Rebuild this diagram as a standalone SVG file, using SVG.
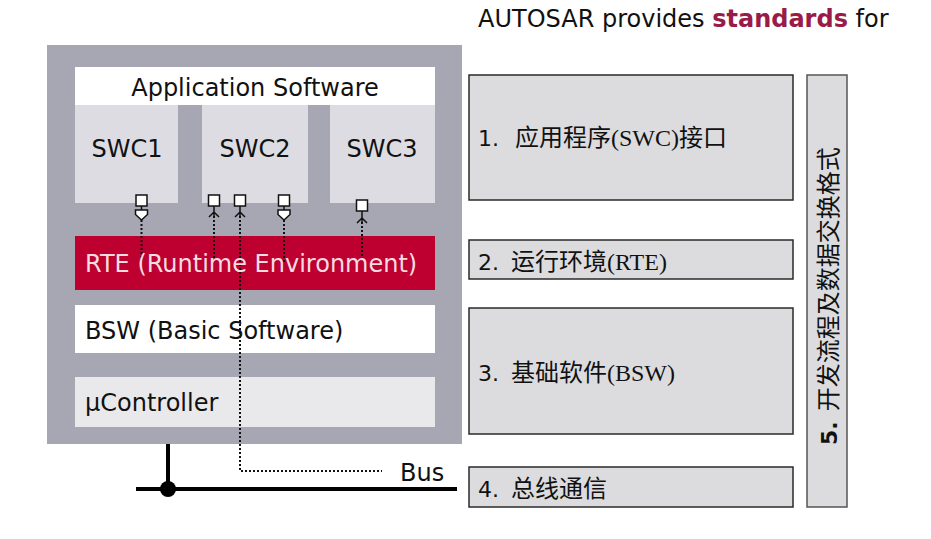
<svg xmlns="http://www.w3.org/2000/svg" width="931" height="539" viewBox="0 0 931 539">
<defs>
<style>
.sans{font-family:"DejaVu Sans","Noto Sans CJK SC",sans-serif;}
.cj{font-family:"Liberation Serif","Noto Sans CJK SC",serif;}
.lbl{font-size:24px;fill:#111;}
.std{fill:#dcdcdf;stroke:#2a2a2a;stroke-width:1.5;}
.dot{stroke:#111;stroke-width:2;stroke-dasharray:2 2;fill:none;}
.port{fill:#fff;stroke:#111;stroke-width:1.5;}
.chev{fill:none;stroke:#111;stroke-width:1.5;}
</style>
</defs>
<rect width="931" height="539" fill="#fff"/>

<text class="sans" x="478" y="27" font-size="24" fill="#111">AUTOSAR provides <tspan font-weight="bold" fill="#9a1b48">standards</tspan> for</text>

<g id="ecu">
<rect x="47" y="45" width="415" height="399" fill="#a7a7b3"/>
</g>
<g id="app">
<rect x="75" y="67" width="360" height="38" fill="#fff"/>
<text class="sans lbl" x="255" y="96" text-anchor="middle">Application Software</text>
</g>
<g id="swc1">
<rect x="75" y="105" width="103" height="98" fill="#dcdce2"/>
<text class="sans lbl" x="127" y="157" text-anchor="middle">SWC1</text>
</g>
<g id="swc2">
<rect x="202" y="105" width="106" height="98" fill="#dcdce2"/>
<text class="sans lbl" x="255" y="157" text-anchor="middle">SWC2</text>
</g>
<g id="swc3">
<rect x="330" y="105" width="105" height="98" fill="#dcdce2"/>
<text class="sans lbl" x="382" y="157" text-anchor="middle">SWC3</text>
</g>
<g id="rte">
<rect x="75" y="236" width="360" height="54" fill="#bd0030"/>
</g>
<g id="bsw">
<rect x="75" y="305" width="360" height="48" fill="#fff"/>
<text class="sans lbl" x="85" y="339">BSW (Basic Software)</text>
</g>
<g id="uc">
<rect x="75" y="377" width="360" height="50" fill="#e9e9ec"/>
<text class="sans lbl" x="85" y="411">µController</text>
</g>

<g id="connectors">
<path class="dot" d="M141.5 220V262M214 212V262M284 220V262M362 218V262"/>
<path class="dot" d="M240 212V471H382"/>
<path d="M168 444V489M136 489H457" stroke="#000" stroke-width="4" fill="none"/>
<circle cx="168" cy="489" r="8" fill="#000"/>
</g>

<g id="ports">
<rect class="port" x="136" y="195" width="11" height="11"/>
<path class="chev" d="M141.5 206V210"/>
<path class="port" d="M135.5 210H147.5V214.5L141.5 220L135.5 214.5Z"/>
<rect class="port" x="208.5" y="195" width="11" height="11"/>
<path class="chev" d="M214 206V218M209 217L214 212L219 217"/>
<rect class="port" x="234.5" y="195" width="11" height="11"/>
<path class="chev" d="M240 206V218M235 217L240 212L245 217"/>
<rect class="port" x="278.5" y="195" width="11" height="11"/>
<path class="chev" d="M284 206V210"/>
<path class="port" d="M278 210H290V214.5L284 220L278 214.5Z"/>
<rect class="port" x="356.5" y="200" width="11" height="11"/>
<path class="chev" d="M362 211V224M357 223L362 218L367 223"/>
</g>

<text class="sans" x="85" y="272" font-size="24" fill="#f6dbe1">RTE (Runtime Environment)</text>

<text class="sans lbl" x="400" y="481">Bus</text>

<g id="s1">
<rect class="std" x="469" y="75" width="324" height="125"/>
<text x="478" y="146" class="lbl"><tspan class="sans" font-size="22">1.</tspan><tspan class="cj" x="515">应用程序(SWC)接口</tspan></text>
</g>
<g id="s2">
<rect class="std" x="469" y="240" width="324" height="39"/>
<text x="478" y="270" class="lbl"><tspan class="sans" font-size="22">2.</tspan><tspan class="cj" x="511">运行环境(RTE)</tspan></text>
</g>
<g id="s3">
<rect class="std" x="469" y="308" width="324" height="126"/>
<text x="478" y="381" class="lbl"><tspan class="sans" font-size="22">3.</tspan><tspan class="cj" x="511">基础软件(BSW)</tspan></text>
</g>
<g id="s4">
<rect class="std" x="469" y="467" width="324" height="40"/>
<text x="478" y="497" class="lbl"><tspan class="sans" font-size="22">4.</tspan><tspan class="cj" x="511">总线通信</tspan></text>
</g>
<g id="s5">
<rect x="807" y="75" width="40" height="432" fill="#dcdcdf" stroke="#555" stroke-width="1.5"/>
<text transform="translate(837 445) rotate(-90)" class="lbl"><tspan class="sans" font-size="22" font-weight="bold">5.</tspan><tspan class="cj" dx="10">开发流程及数据交换格式</tspan></text>
</g>
</svg>
